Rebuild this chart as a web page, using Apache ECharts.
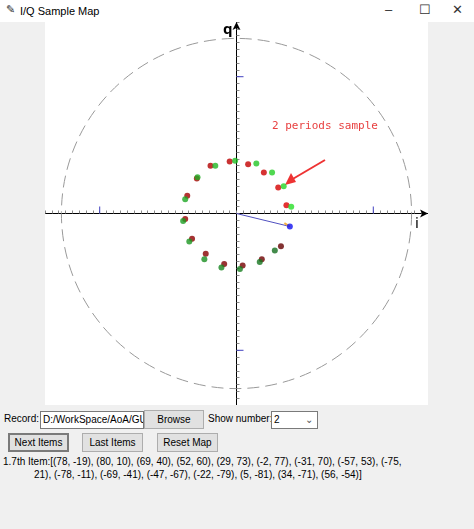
<!DOCTYPE html>
<html>
<head>
<meta charset="utf-8">
<script src="https://cdn.jsdelivr.net/npm/echarts@6/dist/echarts.min.js"></script>
<style>
body{margin:0;width:474px;height:529px;background:#f0f0f0;font-family:"Liberation Sans",sans-serif;font-size:10px;position:relative;overflow:hidden;color:#000}
#titlebar{position:absolute;left:0;top:0;width:474px;height:22px;background:#fff}
#titlebar .t{position:absolute;left:20px;top:5px;font-size:11px}
#titlebar .c{position:absolute;top:2px;font-size:13px;color:#333}
#chart{position:absolute;left:45px;top:22px;width:383px;height:383px;background:#fff}
.lbl{position:absolute;font-size:10px;white-space:nowrap}
.entry{position:absolute;background:#fff;border:1px solid #7a7a7a;font-size:10px;height:16px;line-height:16px;padding-left:2px;overflow:hidden;white-space:nowrap;box-sizing:content-box}
.btn{position:absolute;background:#e1e1e1;border:1px solid #adadad;font-size:10px;text-align:center;height:17px;line-height:17px}
</style>
</head>
<body>
<div id="titlebar">
  <span class="c" style="left:6px;top:3px;font-size:11px">&#x270E;</span>
  <span class="t">I/Q Sample Map</span>
  <span class="c" style="left:385px">&#8211;</span>
  <span class="c" style="left:419px">&#9744;</span>
  <span class="c" style="left:452px">&#10005;</span>
</div>
<div id="chart"></div>
<span class="lbl" style="left:4px;top:413px">Record:</span>
<div class="entry" style="left:40px;top:411px;width:100px">D:/WorkSpace/AoA/GUI_</div>
<div class="btn" style="left:144px;top:410px;width:58px">Browse</div>
<span class="lbl" style="left:208px;top:413px">Show number:</span>
<div class="entry" style="left:271px;top:411px;width:43px">2<span style="position:absolute;right:4px;color:#555">&#8964;</span></div>
<div class="btn" style="left:8px;top:433px;width:57px;border:2px solid #7a7a7a;height:15px;line-height:15px">Next Items</div>
<div class="btn" style="left:82px;top:433px;width:59px">Last Items</div>
<div class="btn" style="left:157px;top:433px;width:59px">Reset Map</div>
<div class="lbl" style="left:3px;top:455px;line-height:13px">1.7th Item:[(78, -19), (80, 10), (69, 40), (52, 60), (29, 73), (-2, 77), (-31, 70), (-57, 53), (-75,<br><span style="padding-left:31px">21), (-78, -11), (-69, -41), (-47, -67), (-22, -79), (5, -81), (34, -71), (56, -54)]</span></div>
<script>
// current item (green, first point shown blue)
var curI = [78, 80, 69, 52, 29, -2, -31, -57, -75, -78, -69, -47, -22, 5, 34, 56];
var curQ = [-19, 10, 40, 60, 73, 77, 70, 53, 21, -11, -41, -67, -79, -81, -71, -54];
// previous item (red)
var prevI = [74, 73, 61, 40, 17, -10, -38, -58, -72, -75, -65, -45, -18, 9, 37, 65];
var prevQ = [-16, 12, 38, 60, 72, 76, 70, 51, 26, -8, -37, -59, -74, -76, -67, -48];
var majorTicks = [-200, 200];
var fullScale = 256;
var axisMax = 280;

function mix(a, b, t) {
  var r = a.map(function (v, k) { return Math.round(v + (b[k] - v) * t); });
  return 'rgb(' + r.join(',') + ')';
}
function pts(I, Q, c0, c1, skipFirst) {
  var out = [];
  for (var k = skipFirst ? 1 : 0; k < I.length; k++) {
    out.push({ value: [I[k], Q[k]], itemStyle: { color: mix(c0, c1, k / (I.length - 1)) } });
  }
  return out;
}
var tickData = [];
majorTicks.forEach(function (v) { tickData.push([v, 0, 0]); tickData.push([0, v, 1]); });

var chart = echarts.init(document.getElementById('chart'));
function axis() {
  return {
    type: 'value', min: -axisMax, max: axisMax, interval: 10, splitLine: { show: false },
    axisLabel: { show: false },
    axisLine: { onZero: true, lineStyle: { color: '#000', width: 1 }, symbol: ['none', 'arrow'], symbolSize: [6, 8] },
    axisTick: { inside: true, length: 3, lineStyle: { color: '#888' } }
  };
}
var option = {
  animation: false,
  grid: { left: 0, right: 0, top: 0, bottom: 0 },
  xAxis: axis(),
  yAxis: axis(),
  series: [
    {
      type: 'custom', renderItem: function (params, api) {
        var c = api.coord([0, 0]);
        var r = api.size([fullScale, 0])[0];
        return { type: 'circle', shape: { cx: c[0], cy: c[1], r: r },
          style: { fill: 'none', stroke: '#999', lineWidth: 1, lineDash: [12, 6] } };
      }, data: [[0, 0]], silent: true, z: 1
    },
    {
      type: 'custom', renderItem: function (params, api) {
        var c = api.coord([api.value(0), api.value(1)]);
        var vertical = api.value(2) === 0;
        return { type: 'line',
          shape: vertical ? { x1: c[0], y1: c[1], x2: c[0], y2: c[1] - 7 } : { x1: c[0], y1: c[1], x2: c[0] + 7, y2: c[1] },
          style: { stroke: '#4040c0', lineWidth: 1 } };
      }, data: tickData, silent: true, z: 2
    },
    { type: 'scatter', symbolSize: 6, data: pts(prevI, prevQ, [230, 0, 0], [100, 0, 0], true), z: 3 },
    { type: 'scatter', symbolSize: 6, data: pts(curI, curQ, [40, 230, 40], [20, 110, 30], true), z: 4 },
    { type: 'line', data: [[0, 0], [curI[0], curQ[0]]], symbol: 'none', lineStyle: { color: '#5050c0', width: 1 }, z: 5 },
    { type: 'line', data: [[prevI[0] - 4, prevQ[0] + 2], [curI[0], curQ[0]]], symbol: 'none', lineStyle: { color: '#f5b040', width: 2 }, z: 5 },
    { type: 'scatter', symbolSize: 6, data: [[curI[0], curQ[0]]], itemStyle: { color: '#1010f0' }, z: 6 }
  ],
  graphic: [
    { type: 'text', left: 370, top: 194, style: { text: 'i', fill: '#000', font: '15px "Noto Sans", sans-serif' } },
    { type: 'text', left: 178, top: 0, style: { text: 'q', fill: '#000', font: 'bold 15px "Noto Sans", sans-serif' } },
    { type: 'text', left: 227, top: 99, style: { text: '2 periods sample', fill: '#e84040', font: '11px "DejaVu Sans Mono", monospace' } },
    { type: 'line', shape: { x1: 280, y1: 138, x2: 246, y2: 158 }, style: { stroke: '#ee3333', lineWidth: 2 } },
    { type: 'polygon', shape: { points: [[240, 163], [246, 151], [251, 160]] }, style: { fill: '#ee3333' } }
  ]
};
chart.setOption(option);
</script>
</body>
</html>
